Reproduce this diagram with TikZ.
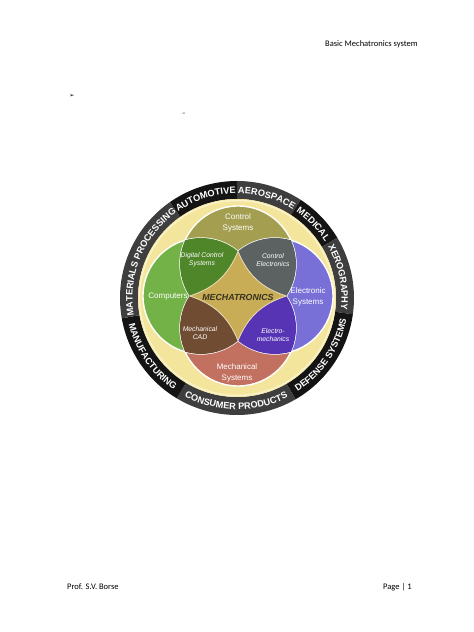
\documentclass[tikz,border=0pt]{standalone}
\usepackage{fontspec}
\setmainfont{Carlito}
\newfontfamily\arialfont{Liberation Sans}
\newfontfamily\dejafont{DejaVu Sans}
\usepackage{xcolor}
\usetikzlibrary{decorations.text}

\definecolor{ringblack}{RGB}{20,20,20}
\definecolor{ringgray}{RGB}{62,62,62}
\definecolor{ringyellow}{RGB}{244,229,156}
\definecolor{ringcream}{RGB}{250,242,200}
\definecolor{ctlolive}{RGB}{163,158,80}
\definecolor{cmpgreen}{RGB}{114,178,70}
\definecolor{elcblue}{RGB}{120,112,214}
\definecolor{mchsalmon}{RGB}{194,112,96}
\definecolor{dcsgreen}{RGB}{80,134,42}
\definecolor{cegray}{RGB}{92,98,98}
\definecolor{empurple}{RGB}{86,52,180}
\definecolor{cadbrown}{RGB}{112,76,50}
\definecolor{coregold}{RGB}{200,172,86}
\definecolor{coredark}{RGB}{55,50,30}

\newcommand{\ringfont}{\arialfont\bfseries\fontsize{9.2}{9.2}\selectfont}
\newcommand{\rad}{58}

\begin{document}
\begin{tikzpicture}[
    x=1pt, y=1pt,
    pagetext/.style={font=\fontsize{8.5}{10}\selectfont, anchor=west, inner sep=0pt},
    circletext/.style={font=\arialfont\fontsize{8}{10.5}\selectfont, text=white, align=center, inner sep=0pt},
    lenstext/.style={font=\arialfont\itshape\fontsize{6.8}{7.8}\selectfont, text=white, align=center, inner sep=0pt},
    coretext/.style={font=\arialfont\bfseries\itshape\fontsize{8.8}{10}\selectfont, text=coredark, inner sep=0pt},
    ringtext/.style={decorate, decoration={text along path, text align=center, text color=white, text={|\ringfont|#1}}}
]
    % Page
    \fill[white] (0,0) rectangle (474,632);
    \useasboundingbox (0,0) rectangle (474,632);

    % Header and footer
    \node[pagetext] (header) at (325,588) {Basic Mechatronics system};
    \node[font=\dejafont\fontsize{6}{6}\selectfont, inner sep=0pt] (bullet) at (72,536) {➢};
    \node[pagetext, font=\fontsize{7}{7}\selectfont] (dash) at (182,518) {–};
    \node[pagetext] (author) at (67,45) {Prof. S.V. Borse};
    \node[pagetext] (pageno) at (383,45) {Page | 1};

    % Ring of application fields
    \begin{scope}[shift={(237,334)}]
        \foreach \a/\b/\col in {125/90/ringblack, 90/57/ringgray, 57/31/ringblack, 31/-8/ringgray,
                                -8/-60/ringblack, -60/-121/ringgray, -121/-170/ringblack, -170/-235/ringgray}
            \fill[\col] (\a:117) arc[start angle=\a, end angle=\b, radius=117]
                -- (\b:99) arc[start angle=\b, end angle=\a, radius=99] -- cycle;
        \fill[ringyellow] (0,0) circle[radius=99];
        \draw[ringcream, line width=1.5pt] (0,0) circle[radius=97.5];

        \path[ringtext=MATERIALS PROCESSING] (193:104.5) arc[start angle=193, end angle=122, radius=104.5];
        \path[ringtext=AUTOMOTIVE] (127:104.5) arc[start angle=127, end angle=88, radius=104.5];
        \path[ringtext=AEROSPACE] (92:104.5) arc[start angle=92, end angle=55, radius=104.5];
        \path[ringtext=MEDICAL] (59:104.5) arc[start angle=59, end angle=29, radius=104.5];
        \path[ringtext=XEROGRAPHY] (34:104.5) arc[start angle=34, end angle=-11, radius=104.5];
        \path[ringtext=DEFENSE SYSTEMS] (-63:111.5) arc[start angle=-63, end angle=-5, radius=111.5];
        \path[ringtext=CONSUMER PRODUCTS] (-125:111.5) arc[start angle=-125, end angle=-56, radius=111.5];
        \path[ringtext=MANUFACTURING] (-174:111.5) arc[start angle=-174, end angle=-117, radius=111.5];
    \end{scope}

    % Circle centres
    \coordinate (ctl) at (238,368);
    \coordinate (cmp) at (201,336);
    \coordinate (elc) at (275,336);
    \coordinate (mch) at (238,304);

    % Disciplines
    \fill[ctlolive] (ctl) circle[radius=\rad];
    \fill[cmpgreen] (cmp) circle[radius=\rad];
    \fill[elcblue] (elc) circle[radius=\rad];
    \fill[mchsalmon] (mch) circle[radius=\rad];
    \foreach \p in {ctl, cmp, elc, mch}
        \draw[white, line width=1.4pt] (\p) circle[radius=\rad];

    % Pairwise overlaps, one quadrant each
    \foreach \p/\q/\col/\xa/\ya/\xb/\yb in {ctl/cmp/dcsgreen/0/336/238/632, ctl/elc/cegray/238/336/474/632,
                                            elc/mch/empurple/238/0/474/336, mch/cmp/cadbrown/0/0/238/336}{
        \begin{scope}
            \clip (\xa,\ya) rectangle (\xb,\yb);
            \clip (\p) circle[radius=\rad];
            \fill[\col] (\q) circle[radius=\rad];
        \end{scope}
    }

    % Core
    \coordinate (core_t) at (238,380.7);
    \coordinate (core_l) at (189.6,336);
    \coordinate (core_b) at (238,291.3);
    \coordinate (core_r) at (286.4,336);
    \filldraw[fill=coregold, draw=white!60!coregold, line width=0.8pt]
        (core_t) to[bend left=25] (core_l) to[bend left=25] (core_b)
        to[bend left=25] (core_r) to[bend left=25] (core_t) -- cycle;

    % Labels
    \node[circletext] (ctl_lbl) at (238,409) {Control\\Systems};
    \node[circletext] (cmp_lbl) at (168,335) {Computers};
    \node[circletext] (elc_lbl) at (308,335) {Electronic\\Systems};
    \node[circletext] (mch_lbl) at (237,259) {Mechanical\\Systems};
    \node[lenstext] (dcs_lbl) at (202,372) {Digital Control\\Systems};
    \node[lenstext] (ce_lbl) at (273,372) {Control\\Electronics};
    \node[lenstext] (cad_lbl) at (200,299) {Mechanical\\CAD};
    \node[lenstext] (em_lbl) at (273,297) {Electro-\\mechanics};
    \node[coretext] (core_lbl) at (238,335) {MECHATRONICS};
\end{tikzpicture}
\end{document}
